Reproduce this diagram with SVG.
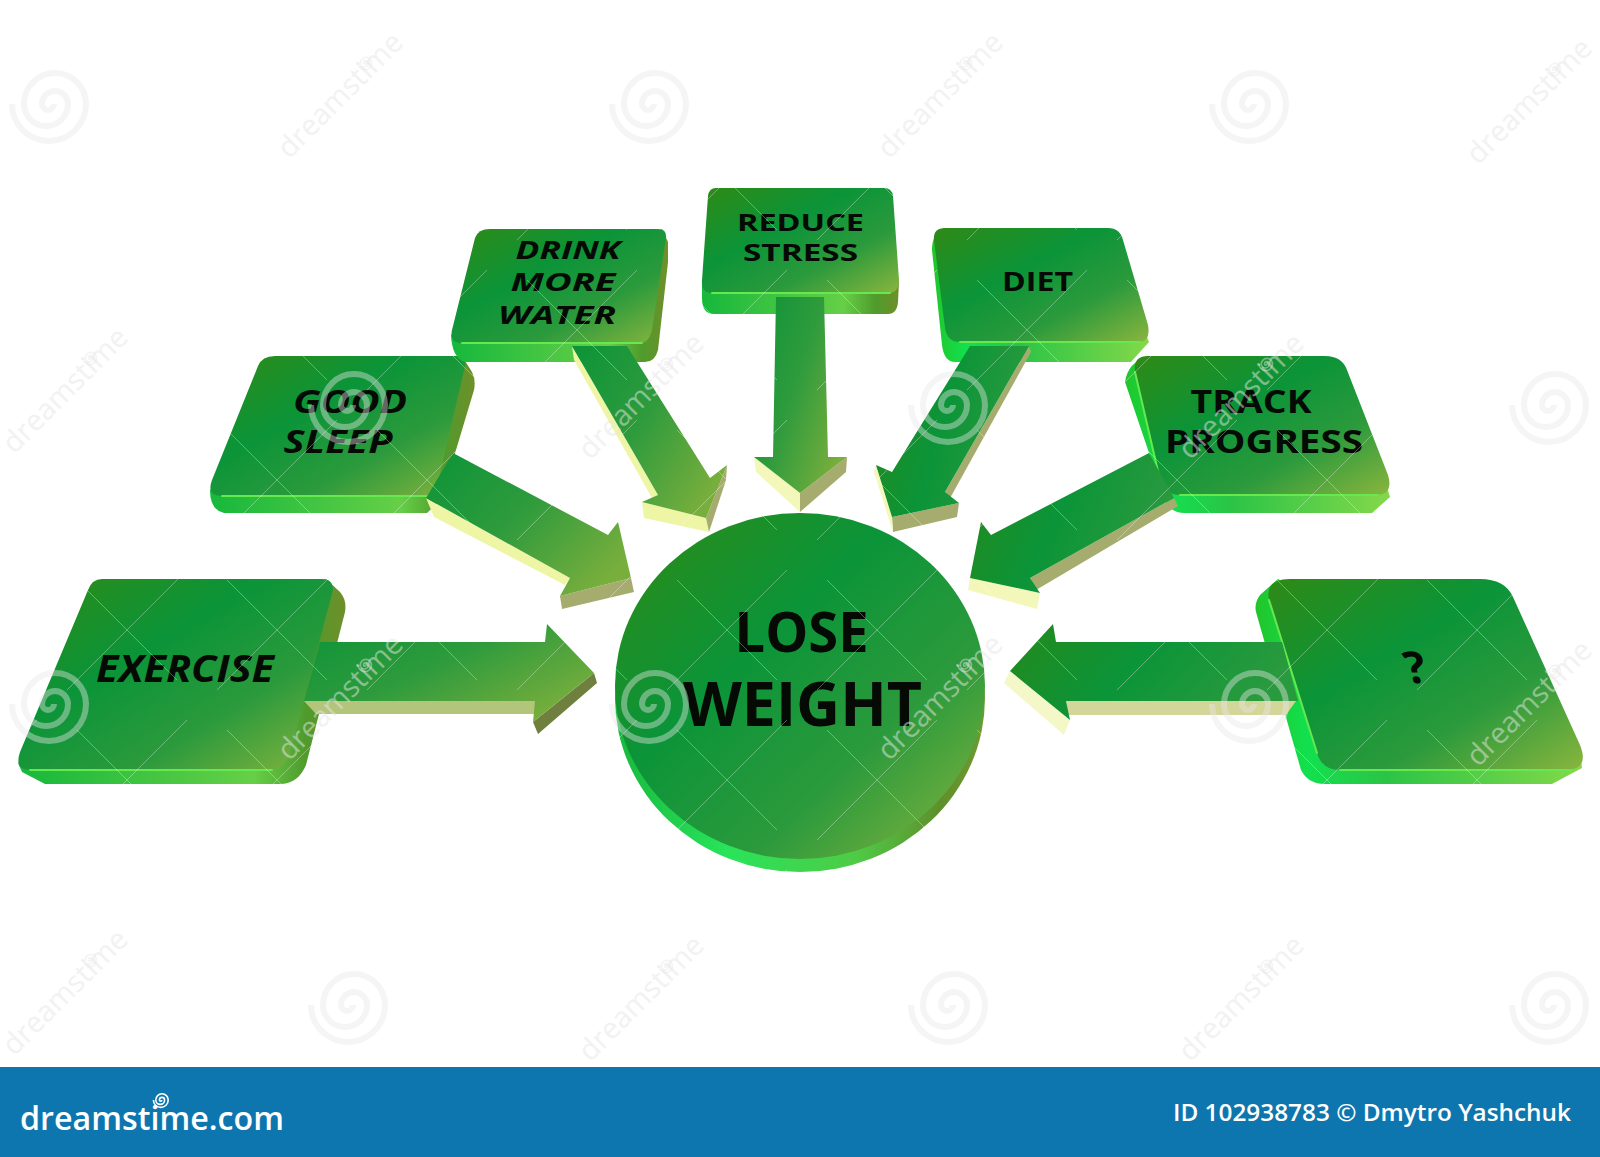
<svg xmlns="http://www.w3.org/2000/svg" width="1600" height="1157" viewBox="0 0 1600 1157">
<style>
text{font-family:"Open Sans","Liberation Sans",sans-serif;font-weight:700;fill:#050a05;text-anchor:middle}
.it{font-style:italic}
.face{fill:url(#faceG)}
.sideR{fill:url(#sideRG)}
.sideL{fill:url(#sideLG)}
.hi{fill:none;stroke:#66e84f;stroke-width:2;stroke-linecap:round}
.ar{fill:url(#arrowG)}
.al{fill:url(#arrowLG)}
.pale{fill:#eef5a5}
.cream{fill:#f3f7b9}
.khaki{fill:#b3c47b}
.olive{fill:#a5ac6e}
.dark{fill:#6f7f3e}
.wm{fill:none;stroke:#e6e6e6;stroke-width:6;opacity:.42}
.mk{fill:none;stroke:#e6e6e6;stroke-width:9;opacity:.45}
.wt{fill:#e6e6e6;font-weight:400;opacity:.5;font-size:29px}
.foot{fill:#fff}
</style>
<defs>
<linearGradient id="faceG" x1="0" y1="0" x2="1" y2="1">
<stop offset="0" stop-color="#2f8a16"/><stop offset=".38" stop-color="#0b9438"/><stop offset=".68" stop-color="#2b9a3c"/><stop offset="1" stop-color="#8ab53e"/>
</linearGradient>
<linearGradient id="arrowG" x1="0" y1="0" x2="1" y2=".7">
<stop offset="0" stop-color="#0c9338"/><stop offset=".5" stop-color="#2e9b3c"/><stop offset="1" stop-color="#78ae3c"/>
</linearGradient>
<linearGradient id="arrowLG" x1="0" y1="0" x2="1" y2=".3">
<stop offset="0" stop-color="#25891c"/><stop offset=".5" stop-color="#0b9438"/><stop offset="1" stop-color="#2a9a3e"/>
</linearGradient>
<linearGradient id="sideRG" x1="0" y1="0" x2="1" y2="0">
<stop offset="0" stop-color="#16b83c"/><stop offset=".72" stop-color="#66cf47"/><stop offset=".88" stop-color="#4f9b2c"/><stop offset="1" stop-color="#6f8f2a"/>
</linearGradient>
<linearGradient id="sideLG" x1="0" y1="0" x2="1" y2="0">
<stop offset="0" stop-color="#21c52a"/><stop offset=".16" stop-color="#12e04f"/><stop offset=".4" stop-color="#2cc446"/><stop offset="1" stop-color="#84d84a"/>
</linearGradient>
<linearGradient id="discSide" x1="0" y1="0" x2="1" y2="0">
<stop offset="0" stop-color="#18b83e"/><stop offset=".3" stop-color="#28e45a"/><stop offset=".65" stop-color="#4fcb46"/><stop offset=".88" stop-color="#5f8f2c"/><stop offset="1" stop-color="#6f9a30"/>
</linearGradient>
<pattern id="cross" patternUnits="userSpaceOnUse" x="52" y="105" width="150" height="150">
<path d="M15,135L135,15M25,25L125,125" stroke="#fff" stroke-width="1" stroke-opacity=".32" fill="none"/>
</pattern>
<path id="sp" d="M4,0A6,6 0 1 1 -8,0A13,13 0 1 1 18,0A22,22 0 1 1 -26,0A31,31 0 1 1 36,0A37,37 0 0 1 -38,0"/>
</defs>
<rect width="1600" height="1157" fill="#fff"/>

<g id="node-exercise">
<path class="sideR" d="M326,579L340,592Q347,600 345,612L306,765Q298,784 280,784H45L22,772L18,763Z"/>
<path class="face" d="M102,579H322Q333,579 333,590L290,752Q285,770 270,770H30Q14,770 20,752L88,590Q92,579 102,579Z"/>
<path class="hi" d="M30,770H272"/>
<text class="it" x="185" y="682" font-size="37" textLength="178" lengthAdjust="spacingAndGlyphs">EXERCISE</text>
</g>
<g id="node-sleep">
<path class="sideR" d="M462,356L472,372Q476,380 474,390L441,500L427,513H224Q210,510 210,490Z"/>
<path class="face" d="M275,356H458Q466,356 465,366L438,482Q435,496 425,496H222Q206,496 212,480L258,366Q262,356 275,356Z"/>
<path class="hi" d="M222,496H427"/>
<text class="it" x="350" y="413" font-size="32" textLength="114" lengthAdjust="spacingAndGlyphs">GOOD</text>
<text class="it" x="338" y="453" font-size="32" textLength="109" lengthAdjust="spacingAndGlyphs">SLEEP</text>
</g>
<g id="node-water">
<path class="sideR" d="M662,229L668,242L668,262L658,350Q655,362 645,362H465Q452,358 451,335Z"/>
<path class="face" d="M490,229H658Q667,229 666,238L652,330Q649,343 640,343H462Q449,343 452,330L475,238Q478,229 490,229Z"/>
<path class="hi" d="M462,343H642"/>
<text class="it" x="568" y="259" font-size="25" textLength="105" lengthAdjust="spacingAndGlyphs">DRINK</text>
<text class="it" x="563" y="291" font-size="25" textLength="105" lengthAdjust="spacingAndGlyphs">MORE</text>
<text class="it" x="557" y="324" font-size="25" textLength="118" lengthAdjust="spacingAndGlyphs">WATER</text>
</g>
<g id="node-stress">
<path class="sideR" d="M702,282L702,298Q702,314 714,314H888Q897,314 898,302L899,282Z"/>
<path class="face" d="M716,188H884Q892,188 893,196L899,280Q899,293 888,293H712Q701,293 702,280L708,196Q709,188 716,188Z"/>
<path class="hi" d="M712,293H890"/>
<text x="800.500" y="231" font-size="24" textLength="127" lengthAdjust="spacingAndGlyphs">REDUCE</text>
<text x="800.500" y="261" font-size="24" textLength="115" lengthAdjust="spacingAndGlyphs">STRESS</text>
</g>
<g id="node-diet">
<path class="sideL" d="M945,228Q932,232 932,250L942,345Q944,362 955,362H1131L1149,342L1140,320Z"/>
<path class="face" d="M945,228H1108Q1120,228 1123,240L1148,325Q1151,342 1138,342H960Q947,342 945,328L934,240Q933,228 945,228Z"/>
<path class="hi" d="M960,342H1140"/>
<text x="1037.500" y="291" font-size="26" textLength="71" lengthAdjust="spacingAndGlyphs">DIET</text>
</g>
<g id="node-track">
<path class="sideL" d="M1148,356Q1128,362 1125,382L1165,500Q1170,513 1185,513H1372L1390,497L1385,480Z"/>
<path class="face" d="M1148,356H1325Q1342,356 1347,370L1388,475Q1394,495 1375,495H1180Q1164,495 1160,480L1135,372Q1133,356 1148,356Z"/>
<path class="hi" d="M1180,495H1378M1135,372L1160,480"/>
<text x="1251" y="413" font-size="32" textLength="121" lengthAdjust="spacingAndGlyphs">TRACK</text>
<text x="1264" y="453" font-size="32" textLength="198" lengthAdjust="spacingAndGlyphs">PROGRESS</text>
</g>
<g id="node-unknown">
<path class="sideL" d="M1278,579L1260,595Q1254,603 1256,612L1301,770Q1308,784 1325,784H1552L1582,768L1580,750Z"/>
<path class="face" d="M1290,579H1480Q1505,579 1513,597L1580,745Q1590,770 1565,770H1340Q1322,770 1317,753L1269,600Q1265,579 1290,579Z"/>
<path class="hi" d="M1340,770H1572M1269,600L1317,753"/>
<text transform="translate(1419,683) skewX(14)" font-size="44">?</text>
</g>
<g id="node-goal">
<ellipse cx="800" cy="698" rx="185" ry="174" fill="url(#discSide)"/>
<ellipse cx="800" cy="686" rx="185" ry="173" class="face"/>
<text x="801.500" y="652" font-size="55" textLength="134" lengthAdjust="spacingAndGlyphs">LOSE</text>
<text x="802.500" y="726" font-size="60" textLength="239" lengthAdjust="spacingAndGlyphs">WEIGHT</text>
</g>

<g id="connectors">
<g id="arrow-exercise">
<polygon class="khaki" points="304,701 535,701 535,714 316,714"/>
<polygon class="dark" points="594,673 597,683 538,734 533,722"/>
<polygon class="ar" points="320,642 545,642 547,624 594,673 533,722 535,701 304,701"/>
</g>
<g id="arrow-sleep">
<polygon class="pale" points="426,498 570,578 565,585 434,517"/>
<polygon class="olive" points="631,578 634,592 562,609 560,596"/>
<polygon class="ar" points="453,453 608,535 618,522 631,578 560,596 570,578 426,498"/>
</g>
<g id="arrow-water">
<polygon class="pale" points="572,346 658,495 652,498 574,360"/>
<polygon class="pale" points="642,502 644,518 709,532 706,518"/>
<polygon class="olive" points="727,465 726,480 709,532 706,518"/>
<polygon class="ar" points="572,346 627,346 710,478 727,465 706,518 642,502 658,495"/>
</g>
<g id="arrow-stress">
<polygon class="cream" points="754,457 756,472 800,512 800,493"/>
<polygon class="olive" points="847,457 846,472 800,512 800,493"/>
<polygon class="ar" points="776,297 824,297 828,457 847,457 800,493 754,457 773,457"/>
</g>
<g id="arrow-diet">
<polygon class="olive" points="1029,346 1031,352 949,500 945,492"/>
<polygon class="olive" points="959,503 957,517 893,532 892,517"/>
<polygon class="cream" points="876,465 874,472 893,532 892,517"/>
<polygon class="al" points="970,346 1029,346 945,492 959,503 892,517 876,465 892,472"/>
</g>
<g id="arrow-track">
<polygon class="olive" points="1174,498 1178,506 1036,590 1030,578"/>
<polygon class="cream" points="970,578 968,590 1037,609 1040,593"/>
<polygon class="al" points="1149,453 1174,498 1030,578 1040,593 970,578 981,522 991,535"/>
</g>
<g id="arrow-unknown">
<polygon fill="#d2d699" points="1066,701 1296,701 1286,715 1068,715"/>
<polygon fill="#f4f8c8" points="1010,671 1004,683 1064,735 1070,720"/>
<polygon class="al" points="1282,642 1056,642 1053,624 1010,671 1070,720 1066,701 1298,701"/>
</g>
</g>

<g id="footer">
<rect y="1067" width="1600" height="90" fill="#0e76ae"/>
<text class="foot" x="152" y="1130" font-size="32" textLength="264" lengthAdjust="spacingAndGlyphs" style="font-weight:600">dreamstime.com</text>
<use href="#sp" transform="translate(161,1100) scale(.2)" fill="none" stroke="#fff" stroke-width="8"/>
<text class="foot" x="1372" y="1121" font-size="23" textLength="398" lengthAdjust="spacingAndGlyphs" style="font-weight:600">ID 102938783 © Dmytro Yashchuk</text>
</g>

<g id="watermark">
<rect y="100" width="1600" height="780" fill="url(#cross)"/>
<use href="#sp" class="wm" x="50" y="104"/><use href="#sp" class="wm" x="650" y="104"/><use href="#sp" class="wm" x="1250" y="104"/>
<use href="#sp" class="wm" x="349" y="405"/><use href="#sp" class="wm" x="949" y="405"/><use href="#sp" class="wm" x="1550" y="405"/>
<use href="#sp" class="wm" x="50" y="704"/><use href="#sp" class="wm" x="650" y="704"/><use href="#sp" class="wm" x="1250" y="704"/>
<use href="#sp" class="wm" x="349" y="1005"/><use href="#sp" class="wm" x="949" y="1005"/><use href="#sp" class="wm" x="1550" y="1005"/>
<text class="wt" transform="translate(347,102) rotate(-45)">dreamstime</text>
<text class="wt" transform="translate(947,102) rotate(-45)">dreamstime</text>
<text class="wt" transform="translate(1536,108) rotate(-45)">dreamstime</text>
<text class="wt" transform="translate(72,397) rotate(-45)">dreamstime</text>
<text class="wt" transform="translate(648,403) rotate(-45)">dreamstime</text>
<text class="wt" transform="translate(1248,403) rotate(-45)">dreamstime</text>
<text class="wt" transform="translate(347,704) rotate(-45)">dreamstime</text>
<text class="wt" transform="translate(947,704) rotate(-45)">dreamstime</text>
<text class="wt" transform="translate(1536,710) rotate(-45)">dreamstime</text>
<text class="wt" transform="translate(72,999) rotate(-45)">dreamstime</text>
<text class="wt" transform="translate(648,1005) rotate(-45)">dreamstime</text>
<text class="wt" transform="translate(1248,1005) rotate(-45)">dreamstime</text>
<use href="#sp" class="mk" transform="translate(365,63) scale(.18)"/><use href="#sp" class="mk" transform="translate(965,63) scale(.18)"/><use href="#sp" class="mk" transform="translate(1554,69) scale(.18)"/>
<use href="#sp" class="mk" transform="translate(90,358) scale(.18)"/><use href="#sp" class="mk" transform="translate(666,364) scale(.18)"/><use href="#sp" class="mk" transform="translate(1266,364) scale(.18)"/>
<use href="#sp" class="mk" transform="translate(365,665) scale(.18)"/><use href="#sp" class="mk" transform="translate(965,665) scale(.18)"/><use href="#sp" class="mk" transform="translate(1554,671) scale(.18)"/>
<use href="#sp" class="mk" transform="translate(90,960) scale(.18)"/><use href="#sp" class="mk" transform="translate(666,966) scale(.18)"/><use href="#sp" class="mk" transform="translate(1266,966) scale(.18)"/>
</g>
</svg>
